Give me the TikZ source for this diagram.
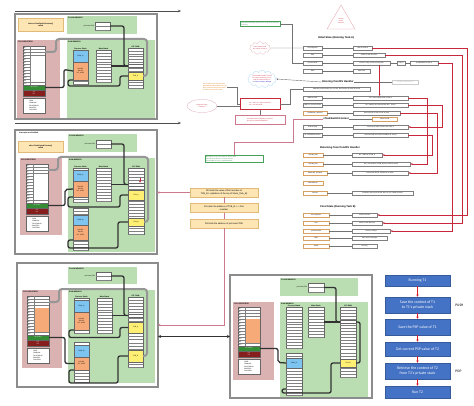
\documentclass[tikz,border=0pt]{standalone}
\usepackage{fontspec}
\setmainfont{Liberation Sans}
\newfontfamily\flowfont{Carlito}
\usepackage{tikz}
\usetikzlibrary{positioning,calc,arrows.meta,shapes.geometric,shapes.symbols}
\definecolor{ZoneGreen}{RGB}{186,222,178}
\definecolor{ZonePink}{RGB}{219,178,178}
\definecolor{NoteYellow}{RGB}{253,229,180}
\definecolor{NoteEdge}{RGB}{226,186,120}
\definecolor{TaskBlue}{RGB}{125,196,240}
\definecolor{StackOrange}{RGB}{245,170,120}
\definecolor{TcbYellow}{RGB}{255,240,115}
\definecolor{RegGreen}{RGB}{52,140,52}
\definecolor{RegRed}{RGB}{135,30,30}
\definecolor{LinkRed}{RGB}{200,40,60}
\definecolor{PinkLine}{RGB}{205,120,140}
\definecolor{NoteGreen}{RGB}{70,160,90}
\definecolor{TanEdge}{RGB}{215,160,100}
\definecolor{FlowBlue}{RGB}{68,114,196}
\definecolor{FlowRed}{RGB}{215,30,40}
\definecolor{WireGray}{RGB}{50,50,50}
\definecolor{BusGray}{RGB}{150,150,150}

\newcommand{\tinyfont}{\fontsize{1.5}{1.8}\selectfont}
\newcommand{\regfont}{\fontsize{1.6}{2.1}\selectfont}
\newcommand{\tagfont}{\fontsize{1.8}{2.1}\selectfont\bfseries}

\tikzset{
  panelframe/.style={draw=black!45,line width=1.2pt,fill=white,anchor=north west,inner sep=0pt,outer sep=0pt},
  zone/.style={anchor=north west,inner sep=0pt,outer sep=0pt},
  greenzone/.style={zone,fill=ZoneGreen},
  pinkzone/.style={zone,fill=ZonePink},
  zonetag/.style={anchor=north west,inner sep=1pt,font=\tagfont},
  coltag/.style={anchor=south,inner sep=0.6pt,font=\tagfont},
  memcell/.style={draw=black!60,line width=0.3pt,fill=white,anchor=north west,inner sep=0pt,outer sep=0pt},
  notebox/.style={anchor=north west,fill=NoteYellow,draw=NoteEdge,line width=0.25pt,inner sep=0.5pt,align=center,font=\tagfont},
  memwire/.style={draw=WireGray,line width=1.3pt,rounded corners=2pt},
  buswire/.style={draw=BusGray,line width=2pt,rounded corners=3pt},
  timeline/.style={draw=black!70,line width=0.6pt,-{Stealth[length=3pt,width=2.5pt]}},
  dblarrow/.style={draw=black!80,line width=0.8pt,{Stealth[length=3pt,width=3pt]}-{Stealth[length=3pt,width=3pt]}},
  mapbox/.style={draw=black!50,line width=0.25pt,fill=white,inner sep=0.5pt,anchor=west,minimum height=3.6pt,font=\tinyfont},
  tanbox/.style={mapbox,draw=TanEdge},
  maphead/.style={font=\fontsize{2.6}{3}\selectfont\bfseries,inner sep=0.5pt},
  maplink/.style={draw=black!55,line width=0.4pt},
  pinklink/.style={draw=PinkLine,line width=0.6pt},
  pinkarrow/.style={pinklink,-{Stealth[length=2.5pt,width=2.2pt]}},
  redlink/.style={draw=LinkRed,line width=0.45pt,-{Latex[length=2pt,width=1.8pt]}},
  gnote/.style={draw=NoteGreen,line width=0.3pt,fill=white,text=NoteGreen!80!black,inner sep=1pt,align=left,font=\tinyfont},
  orangebox/.style={fill=NoteYellow,draw=NoteEdge,line width=0.3pt,minimum width=68pt,minimum height=9pt,inner sep=0.5pt,align=center,font=\fontsize{2.2}{2.6}\selectfont},
  flowbox/.style={fill=FlowBlue,draw=FlowBlue!80!black,line width=0.3pt,text=white,minimum width=65pt,inner sep=0.5pt,align=center,font=\flowfont\fontsize{3.9}{4.6}\selectfont},
  flowarrow/.style={draw=FlowRed,line width=0.9pt,-{Latex[length=2.2pt,width=2.6pt]}}
}

% memory column: name, x, y, width, height, rows
\newcommand{\memcol}[6]{%
  \node[memcell,minimum width=#4pt,minimum height=#5pt] (#1) at (#2,#3) {};
  \pgfmathsetmacro{\memrowh}{#5/#6}
  \foreach \k in {1,...,#6}{\draw[black!50,line width=0.25pt] (#1.north west) ++(0,\k*\memrowh) -- ++(#4,0);}
}
% coloured block inside a column
\newcommand{\memblock}[7]{\node[memcell,fill=#6,minimum width=#4pt,minimum height=#5pt,font=\regfont,align=center] (#1) at (#2,#3) {#7};}
% CPU register set: prefix, x, y, value colour
\newcommand{\regset}[4]{%
  \node[memcell,minimum width=22pt,minimum height=39pt] (#1regs) at (#2,#3) {};
  \foreach \r [count=\i] in {R0,R1,R2,R3,R4,R5,R6,R7,R8,R9,R10,R11,R12}{
    \ifnum\i>4 \ifnum\i<13 \fill[#4] ($(#1regs.north west)+(7,\i*3-3)$) rectangle ++(15,3); \fi\fi
    \draw[black!50,line width=0.25pt] (#1regs.north west) ++(0,\i*3) -- ++(22,0);
    \node[anchor=west,inner sep=0.3pt,font=\regfont] (#1reg\i) at ($(#1regs.north west)+(0,\i*3-1.5)$) {\r};
  }
  \draw[black!50,line width=0.25pt] (#1regs.north west) ++(7,0) -- ++(0,39);
  \node[memcell,fill=RegGreen,minimum width=22pt,minimum height=5pt,text=white,font=\regfont] (#1sp) at (#1regs.south west) {SP (PSP)};
  \node[memcell,fill=RegRed,minimum width=22pt,minimum height=6pt,text=white,font=\regfont,align=center] (#1lrpc) at (#1sp.south west) {LR\\PC};
  \node[memcell,minimum width=22pt,minimum height=15pt,font=\regfont,align=left] (#1sys) at ([yshift=-2pt]#1lrpc.south west) {xPSR\\PRIMASK\\FAULTMASK\\BASEPRI\\CONTROL};
}

\begin{document}
\begin{tikzpicture}[x=1pt,y=-1pt,>=Stealth]
\useasboundingbox (0,0) rectangle (474,406);
\fill[white] (0,0) rectangle (474,406);

% time lines
\coordinate (timeAfrom) at (15,11); \coordinate (timeAto) at (181,11);
\coordinate (timeBfrom) at (15,123); \coordinate (timeBto) at (181,123);
\draw[timeline] (timeAfrom) -- (timeAto);
\draw[timeline] (timeBfrom) -- (timeBto);

% panel A: before vTaskSwitchContext
\node[panelframe,minimum width=142pt,minimum height=105pt] (frameA) at (15,14) {};
\node[notebox,minimum width=45pt,minimum height=13pt] (noteA) at (18,18) {before vTaskSwitchContext()\\called};
\node[greenzone,minimum width=70pt,minimum height=18pt] (flashA) at (67,16) {};
\node[zonetag] (flashAtag) at (flashA.north west) {FLASH MEMORY};
\memcol{curA}{95}{22}{15}{8}{2}
\node[anchor=east,inner sep=0.8pt,font=\regfont] (curAtag) at (curA.west) {pxCurrentTCB};
\node[pinkzone,minimum width=43pt,minimum height=78pt] (cpuA) at (17,40) {};
\node[zonetag] (cpuAtag) at (cpuA.north west) {CPU REGISTERS};
\regset{A}{23}{46}{white}
\node[greenzone,minimum width=88pt,minimum height=78pt] (ramA) at (67,40) {};
\node[zonetag] (ramAtag) at (ramA.north west) {RAM MEMORY};
\memcol{psA}{73}{50}{15}{34}{12}
\memblock{taskA}{73}{50}{15}{12}{TaskBlue}{TASK\_A}
\memblock{ctxA}{73}{62}{15}{18}{StackOrange}{R4--R11\\R0--R3\\PC, xPSR}
\node[coltag] (psAtag) at (psA.north) {Process Stack};
\memcol{msA}{96}{50}{15}{32}{11}
\node[coltag] (msAtag) at (msA.north) {Main Stack};
\memcol{osA}{128}{48}{15}{40}{14}
\memblock{ptrA}{128}{64.5}{15}{3}{white}{}
\memblock{tcbA}{128}{72}{15}{8}{TcbYellow}{TCB\_A}
\node[coltag] (osAtag) at (osA.north) {OS' RAM};
\draw[buswire] ([yshift=-6pt]Aregs.north east) -| ++(11,-13) -| ([xshift=4pt]tcbA.east) -- (tcbA.east);
\draw[memwire] (curA.east) -| ([xshift=-4pt]ptrA.west) -- (ptrA.west);
\draw[memwire] (msA.east) -- (ptrA.west);
\draw[memwire] (Asp.east) -| ++(19,-18) -- (ctxA.west);
\draw[memwire] (tcbA.west) -| ++(-8,10) -| ([xshift=-5pt]ctxA.south west) -- (ctxA.south west);

% panel B: after vTaskSwitchContext
\node[panelframe,minimum width=142pt,minimum height=124pt] (frameB) at (15,130) {};
\node[anchor=north west,inner sep=1pt,font=\tagfont] (irqB) at (18,131) {Interrupts are Enabled};
\node[notebox,minimum width=45pt,minimum height=11pt] (noteB) at (18,141) {after vTaskSwitchContext()\\called};
\node[greenzone,minimum width=69pt,minimum height=18pt] (flashB) at (68,134) {};
\node[zonetag] (flashBtag) at (flashB.north west) {FLASH MEMORY};
\memcol{curB}{96}{140}{15}{8}{2}
\node[anchor=east,inner sep=0.8pt,font=\regfont] (curBtag) at (curB.west) {pxCurrentTCB};
\node[pinkzone,minimum width=42pt,minimum height=77pt] (cpuB) at (20,158) {};
\node[zonetag] (cpuBtag) at (cpuB.north west) {CPU REGISTERS};
\regset{B}{26}{164}{white}
\node[greenzone,minimum width=87pt,minimum height=94pt] (ramB) at (68,158) {};
\node[zonetag] (ramBtag) at (ramB.north west) {RAM MEMORY};
\memcol{psB}{73}{168}{15}{34}{12}
\memblock{taskB}{73}{170}{15}{11}{TaskBlue}{TASK\_A}
\memblock{ctxB}{73}{181}{15}{16}{StackOrange}{R4--R11\\R0--R3\\PC, xPSR}
\memcol{psBb}{73}{208}{15}{42}{14}
\memblock{taskBb}{73}{215}{15}{10}{TaskBlue}{TASK\_B}
\memblock{ctxBb}{73}{225}{15}{15}{StackOrange}{R4--R11\\R0--R3\\PC, xPSR}
\node[coltag] (psBtag) at (psB.north) {Process Stack};
\memcol{msB}{96}{168}{15}{33}{11}
\node[coltag] (msBtag) at (msB.north) {Main Stack};
\memcol{osB}{128}{168}{16}{66}{22}
\memblock{ptrB}{128}{183}{16}{3}{white}{}
\memblock{tcbB}{128}{190}{16}{10}{TcbYellow}{TCB\_A}
\memblock{tcbBb}{128}{218}{16}{8}{TcbYellow}{TCB\_B}
\node[coltag] (osBtag) at (osB.north) {OS' RAM};
\draw[buswire] ([yshift=-6pt]Bregs.north east) -| ++(10,-13) -| ([xshift=4pt]tcbBb.east) -- (tcbBb.east);
\draw[memwire] (curB.east) -| ([xshift=-4pt]ptrB.west) -- (ptrB.west);
\draw[memwire] (msB.east) -- (ptrB.west);
\draw[memwire] (Bsp.east) -| ++(17,-16) -- (ctxB.west);
\draw[memwire] (tcbB.west) -| ++(-8,12) -| ([xshift=-5pt]ctxB.south west) -- (ctxB.south west);
\draw[memwire] (tcbBb.west) -| ++(-10,26) -| ([xshift=-5pt]ctxBb.south west) -- (ctxBb.south west);
\draw[redlink] ([xshift=4pt,yshift=5pt]ptrB.north) -- ([xshift=4pt]ptrB.north);

% panel C: context of task B restored
\node[panelframe,minimum width=141pt,minimum height=124pt] (frameC) at (17,263) {};
\node[greenzone,minimum width=69pt,minimum height=17pt] (flashC) at (68,267) {};
\node[zonetag] (flashCtag) at (flashC.north west) {FLASH MEMORY};
\memcol{curC}{96}{272}{15}{8}{2}
\node[anchor=east,inner sep=0.8pt,font=\regfont] (curCtag) at (curC.west) {pxCurrentTCB};
\node[pinkzone,minimum width=40pt,minimum height=78pt] (cpuC) at (22,290) {};
\node[zonetag] (cpuCtag) at (cpuC.north west) {CPU REGISTERS};
\regset{C}{27}{296}{StackOrange}
\node[greenzone,minimum width=87pt,minimum height=93pt] (ramC) at (68,290) {};
\node[zonetag] (ramCtag) at (ramC.north west) {RAM MEMORY};
\memcol{psC}{74}{298}{15}{35}{12}
\memblock{taskC}{74}{300}{15}{12}{TaskBlue}{TASK\_A}
\memblock{ctxC}{74}{312}{15}{18}{StackOrange}{R4--R11\\R0--R3\\PC, xPSR}
\memcol{psCb}{74}{342}{15}{40}{13}
\memblock{taskCb}{74}{345}{15}{12}{TaskBlue}{TASK\_B}
\memblock{ctxCb}{74}{357}{15}{13}{StackOrange}{R4--R11\\PC, xPSR}
\node[coltag] (psCtag) at (psC.north) {Process Stack};
\memcol{msC}{97}{298}{15}{35}{12}
\node[coltag] (msCtag) at (msC.north) {Main Stack};
\memcol{osC}{128}{297}{15}{70}{23}
\memblock{ptrC}{128}{314}{15}{3}{white}{}
\memblock{tcbC}{128}{322}{15}{11}{TcbYellow}{TCB\_A}
\memblock{tcbCb}{128}{350}{15}{12}{TcbYellow}{TCB\_B}
\node[coltag] (osCtag) at (osC.north) {OS' RAM};
\draw[buswire] ([yshift=-6pt]Cregs.north east) -| ++(10,-13) -| ([xshift=4pt]tcbCb.east) -- (tcbCb.east);
\draw[memwire] (curC.east) -| ([xshift=-4pt]ptrC.west) -- (ptrC.west);
\draw[memwire] (msC.east) -- (ptrC.west);
\draw[memwire] (Csp.east) -| ++(16,26) -- (ctxCb.west);
\draw[memwire] (tcbC.west) -| ++(-8,10) -| ([xshift=-5pt]ctxC.south west) -- (ctxC.south west);
\draw[memwire] (tcbCb.west) -| ++(-10,27) -| ([xshift=-5pt]ctxCb.south west) -- (ctxCb.south west);

% panel D: running task B
\node[panelframe,minimum width=142pt,minimum height=123pt] (frameD) at (230,275) {};
\node[greenzone,minimum width=78pt,minimum height=18pt] (flashD) at (280,278) {};
\node[zonetag] (flashDtag) at (flashD.north west) {FLASH MEMORY};
\memcol{curD}{308}{283}{16}{9}{2}
\node[anchor=east,inner sep=0.8pt,font=\regfont] (curDtag) at (curD.west) {pxCurrentTCB};
\node[pinkzone,minimum width=41pt,minimum height=78pt] (cpuD) at (233,302) {};
\node[zonetag] (cpuDtag) at (cpuD.north west) {CPU REGISTERS};
\regset{D}{238}{307}{StackOrange}
\node[greenzone,minimum width=88pt,minimum height=95pt] (ramD) at (280,302) {};
\node[zonetag] (ramDtag) at (ramD.north west) {RAM MEMORY};
\memcol{psD}{286}{307}{16}{41}{14}
\memcol{psDb}{286}{353}{16}{42}{14}
\memblock{taskDb}{286}{358}{16}{10}{TaskBlue}{TASK\_B}
\node[coltag] (psDtag) at (psD.north) {Process Stack};
\memcol{msD}{308}{307}{16}{30}{10}
\node[coltag] (msDtag) at (msD.north) {Main Stack};
\memcol{osD}{340}{307}{16}{70}{23}
\memblock{ptrD}{340}{320.5}{16}{3}{white}{}
\memblock{tcbD}{340}{359}{16}{8}{TcbYellow}{TCB\_B}
\node[coltag] (osDtag) at (osD.north) {OS' RAM};
\draw[memwire] (curD.east) -| ([xshift=-4pt]ptrD.west) -- (ptrD.west);
\draw[memwire] (msD.east) -- (ptrD.west);
\draw[memwire] (ptrD.east) -| ([xshift=4pt]tcbD.east) -- (tcbD.east);
\draw[memwire] (Dsp.east) -| ++(18,14) -- (taskDb.west);
\draw[memwire] (tcbD.west) -| ++(-9,30) -| ([xshift=-4pt,yshift=6pt]psDb.south west) -- ([yshift=6pt]psDb.south west);
\draw[dblarrow] (frameC.east |- frameD.west) -- (frameD.west);

% register notes
\node[orangebox] (r0note) at (224,192.5) {R0 holds the value of first member of\\TCB\_B<->(address of the top of Stack\_Task\_B)};
\node[orangebox] (r1note) at (224,208) {R1 holds the address of TCB\_B <-{}-> first\\member};
\node[orangebox] (r3note) at (224,223.5) {R3 holds the address of pxCurrentTCB};
\draw[pinklink] (r0note) -- (r1note);
\draw[pinklink] (r1note) -- (r3note);
\draw[pinkarrow] (r0note.west) -- (frameB.east |- r0note.west);
\draw[pinkarrow] (r3note.south) |- (frameC.east);

% mind map: notes on the left
\node[gnote,text width=38pt] (gnote1) at (260,24) {pxCurrentTCB always points to the TCB of the task that is running};
\node[cloud,cloud puffs=11,aspect=2.2,draw=PinkLine!60,line width=0.25pt,inner sep=0pt,text=LinkRed,align=center,font=\tinyfont] (cloud1) at (260,48) {CPU registers hold\\the context of Task A};
\node[cloud,cloud puffs=13,aspect=2.1,draw=TaskBlue!70,line width=0.25pt,inner sep=0pt,align=center,font=\tinyfont] (cloud2) at (262,79) {\color{LinkRed}The PendSV handler is used\\\color{LinkRed}for context switching, it runs\\\color{LinkRed}with the lowest priority so\\\color{blue!70!black}no other interrupt is delayed};
\node[text=orange!85!black,align=left,font=\tinyfont,inner sep=0pt] (otext) at (215,87) {On exception entry the processor\\automatically stacks xPSR, PC, LR,\\R12, R3--R0 on the process stack\\and then uses the main stack};
\node[ellipse,draw=PinkLine!70,line width=0.25pt,text=LinkRed,align=center,font=\tinyfont,minimum width=30pt,minimum height=13pt,inner sep=0pt] (poval) at (202,106) {Exception frame\\is stacked};
\node[draw=LinkRed,line width=0.3pt,text=LinkRed,align=left,font=\tinyfont,minimum width=40pt,minimum height=11pt,inner sep=1pt] (rbox) at (260,104) {R0 = PSP, R3 = \&pxCurrentTCB\\R2 = pxCurrentTCB};
\node[draw=PinkLine,line width=0.3pt,text=LinkRed,align=left,font=\tinyfont,minimum width=50pt,minimum height=9pt,inner sep=1pt] (pbox) at (260,120) {Interrupts below configMAX\_SYSCALL\\priority are masked (BASEPRI)};
\node[gnote,text width=56pt] (gnote2) at (234,159) {R0 holds the top of the stack of Task A after\\R4--R11 were saved, it is stored into the\\first member of TCB\_A (pxTopOfStack)};

% mind map: states
\node[regular polygon,regular polygon sides=3,draw=LinkRed!45,line width=0.3pt,minimum size=32pt,inner sep=0pt,text=LinkRed,align=center,font=\tinyfont] (apex) at (341,21) {Context\\switch\\PendSV};
\node[maphead] (initHead) at (336,38) {Initial State (Running Task A)};
\node[mapbox,minimum width=19pt] (iL1) at (303,48) {CPU Registers};
\node[mapbox,minimum width=19pt] (iM1) at (353,48) {Task A's context};
\node[mapbox,minimum width=19pt] (iL2) at (303,55) {PSP};
\node[mapbox,minimum width=32pt] (iM2) at (353,55) {Points to Task A's stack};
\node[mapbox,minimum width=19pt] (iL3) at (303,63) {pxCurrentTCB};
\node[mapbox,minimum width=37pt] (iM3) at (353,63) {Points to TCB\_A of the running task};
\node[mapbox,minimum width=8pt] (iM3b) at (397,63) {TCB\_A};
\node[mapbox,minimum width=28pt] (iM3c) at (410,63) {pxTopOfStack of Task A};
\node[mapbox,minimum width=19pt] (iL4) at (303,71) {MSP};
\node[mapbox,minimum width=17pt] (iM4) at (353,71) {Main stack};
\node[maphead] (enterHead) at (338,82) {Entering PendSV Handler};
\node[mapbox,draw=black!20,text=black!35,minimum width=26pt] (eGhost) at (392,82) {PendSV exception taken};
\node[mapbox,minimum width=67pt] (eWide) at (303,89) {Hardware pushes xPSR, PC, LR, R12, R3--R0 onto the stack of Task A};
\node[mapbox,minimum width=19pt] (eL1) at (303,98) {MRS R0, PSP};
\node[mapbox,minimum width=55pt] (eM1) at (353,98) {R0 = current PSP value of Task A};
\node[mapbox,minimum width=19pt] (eL2) at (303,105) {LDR R3, =pxCurrentTCB};
\node[mapbox,minimum width=55pt] (eM2) at (353,105) {R3 = address of pxCurrentTCB, R2 = TCB\_A};
\node[tanbox,minimum width=24pt] (eL3) at (303,113) {STMDB R0!, \{R4-R11\}};
\node[mapbox,minimum width=47pt] (eM3) at (353,113) {Save R4--R11 of Task A onto its stack};
\node[maphead] (vHead) at (336,119) {vTaskSwitchContext};
\node[mapbox,draw=TanEdge,minimum width=25pt] (vBox) at (372,119) {Select Task B};
\node[mapbox,minimum width=19pt] (vL1) at (303,127) {STR R0, [R2]};
\node[mapbox,minimum width=55pt] (vM1) at (353,127) {Store top of stack of Task A into TCB\_A};
\node[mapbox,minimum width=19pt] (vL2) at (303,135) {BL vTaskSwitchContext};
\node[mapbox,minimum width=55pt] (vM2) at (353,135) {pxCurrentTCB now holds the address of TCB\_B};
\node[maphead] (retHead) at (340,148) {Returning from PendSV Handler};
\node[tanbox,minimum width=20pt] (rL1) at (303,155) {LDR R1, [R3]};
\node[mapbox,minimum width=30pt] (rM1) at (352,155) {R1 = address of TCB\_B};
\node[tanbox,minimum width=20pt] (rL2) at (303,164) {LDR R0, [R1]};
\node[mapbox,minimum width=58pt] (rM2) at (352,164) {R0 = first member of TCB\_B (top of Task B's stack)};
\node[tanbox,minimum width=24pt] (rL3) at (303,173) {LDMIA R0!, \{R4-R11\}};
\node[mapbox,minimum width=56pt] (rM3) at (352,173) {Restore R4--R11 of Task B from its stack};
\node[tanbox,minimum width=20pt] (rL4) at (303,183) {MSR PSP, R0};
\node[tanbox,minimum width=24pt] (rL5) at (303,193) {BX R14};
\node[mapbox,minimum width=61pt] (rM5) at (352,193) {Exception return pops R0--R3, R12, LR, PC, xPSR of Task B};
\node[maphead] (finHead) at (338,207) {Final State (Running Task B)};
\node[tanbox,minimum width=26pt] (fL1) at (303,215) {CPU Registers};
\node[mapbox,minimum width=25pt] (fM1) at (352,215) {Task B's context};
\node[tanbox,minimum width=26pt] (fL2) at (303,223) {PSP};
\node[mapbox,minimum width=30pt] (fM2) at (352,223) {Points to Task B's stack};
\node[tanbox,minimum width=26pt] (fL3) at (303,231) {pxCurrentTCB};
\node[mapbox,minimum width=38pt] (fM3) at (352,231) {Points to TCB\_B};
\node[tanbox,minimum width=26pt] (fL4) at (303,238) {MSP};
\node[mapbox,minimum width=35pt] (fM4) at (352,238) {Main stack unchanged};
\node[tanbox,minimum width=26pt] (fL5) at (303,246) {Task B};
\node[mapbox,minimum width=25pt] (fM5) at (352,246) {Running};

\foreach \a/\b in {iL1/iM1,iL2/iM2,iL3/iM3,iM3/iM3b,iM3b/iM3c,iL4/iM4,enterHead/eGhost,eL1/eM1,eL2/eM2,eL3/eM3,vHead/vBox,vL1/vM1,vL2/vM2,rL1/rM1,rL2/rM2,rL3/rM3,rL5/rM5,fL1/fM1,fL2/fM2,fL3/fM3,fL4/fM4,fL5/fM5}
  \draw[maplink] (\a) -- (\b);
\draw[maplink] (gnote1.east) -| ([xshift=-11pt]iL3.west) -- (iL3.west);
\draw[maplink] (cloud1.east) -- (iL1.west);
\draw[maplink,-{Latex[length=1.6pt,width=1.6pt]}] (enterHead.west) -- (cloud2.east);
\draw[maplink] (otext.east) -| ([xshift=-3pt]rbox.west) -- (rbox.west);
\draw[maplink] (poval.east) -- (poval.east -| rbox.west);
\draw[maplink] (rbox.east) -| ([xshift=-13pt]eWide.west) -- (eWide.west);
\draw[maplink] (rbox.south) -- (pbox.north);
\coordinate (vbend) at (293,142);
\draw[pinklink] (vHead.west) -| (vbend) -| (gnote2.north);

% red links between the states
\draw[redlink] ([xshift=8pt]iM3.south) -- ([xshift=8pt]iM3.south |- eM1.north);
\draw[redlink] (iM1.east) -- ++(95,0) |- (fM1.east);
\draw[redlink] (iM2.east) -- ++(77,0) |- (fM2.east);
\draw[redlink] (iM3c.east) -- ++(14,0) |- (fM3.east);
\draw[redlink] (eM1.east) -- ++(19,0) |- (rM2.east);
\draw[redlink] (vM2.east) -- ++(24,0) |- (rM1.east);
\draw[redlink] (eM3.east) -- ++(37,0) |- (rM3.east);
\draw[redlink] (eM2.east) -- ++(34,0) |- (vM1.east);

% push / pop flow
\node[flowbox,minimum height=11pt] (fRun1) at (417.5,280.5) {Running T1};
\node[flowbox,minimum height=16pt] (fSave1) at (417.5,305) {Save the context of T1\\to T1's private stack};
\node[flowbox,minimum height=16pt] (fPsp1) at (417.5,327) {Save the PSP value of T1};
\node[flowbox,minimum height=14pt] (fGet2) at (417.5,349) {Get current PSP value of T2};
\node[flowbox,minimum height=16pt] (fLoad2) at (417.5,371) {Retrieve the context of T2\\from T2's private stack};
\node[flowbox,minimum height=12pt] (fRun2) at (417.5,392) {Run T2};
\foreach \a/\b in {fRun1/fSave1,fSave1/fPsp1,fPsp1/fGet2,fGet2/fLoad2,fLoad2/fRun2}
  \draw[flowarrow] (\a) -- (\b);
\node[anchor=west,inner sep=0pt,font=\flowfont\fontsize{3.6}{4.4}\selectfont] (pushTag) at ([xshift=5pt]fSave1.east) {PUSH};
\node[anchor=west,inner sep=0pt,font=\flowfont\fontsize{3.6}{4.4}\selectfont] (popTag) at ([xshift=5pt]fLoad2.east) {POP};
\end{tikzpicture}
\end{document}
